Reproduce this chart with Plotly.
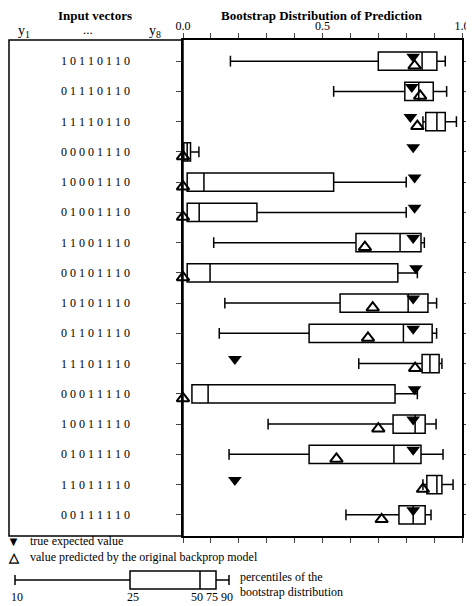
import plotly.graph_objects as go

# input vectors y1..y8, one per row (top to bottom)
vectors = ["10110110", "01110110", "11110110", "00001110", "10001110", "01001110",
           "11001110", "00101110", "10101110", "01101110", "11101110", "00011110",
           "10011110", "01011110", "11011110", "00111110"]
# bootstrap percentiles 10, 25, 50, 75, 90
p10 = [0.17, 0.54, 0.86, 0.0, 0.015, 0.015, 0.11, 0.015, 0.15, 0.13, 0.63, 0.032, 0.305, 0.165, 0.86, 0.584]
p25 = [0.70, 0.795, 0.87, 0.003, 0.015, 0.015, 0.62, 0.015, 0.563, 0.452, 0.857, 0.032, 0.753, 0.452, 0.874, 0.774]
p50 = [0.857, 0.845, 0.91, 0.015, 0.075, 0.058, 0.778, 0.097, 0.807, 0.79, 0.885, 0.09, 0.832, 0.756, 0.91, 0.825]
p75 = [0.91, 0.897, 0.94, 0.027, 0.54, 0.265, 0.853, 0.77, 0.878, 0.893, 0.918, 0.76, 0.868, 0.853, 0.928, 0.868]
p90 = [0.94, 0.945, 0.98, 0.057, 0.80, 0.80, 0.865, 0.84, 0.909, 0.909, 0.928, 0.84, 0.907, 0.932, 0.968, 0.889]
true_val = [0.825, 0.82, 0.815, 0.825, 0.83, 0.83, 0.825, 0.835, 0.825, 0.825, 0.186, 0.83, 0.825, 0.825, 0.186, 0.825]
pred_val = [0.83, 0.85, 0.84, 0.0, 0.0, 0.0, 0.652, 0.0, 0.68, 0.663, 0.832, 0.0, 0.70, 0.55, 0.86, 0.712]

rows = list(range(1, len(vectors) + 1))
FONT = "Liberation Serif"
OFF = 8  # the page puts the figure 8px in from the top-left corner
W, H = 474 - OFF, 606 - OFF
L, R, T, B = 183 - OFF, 12, 40 - OFF, 78 - OFF
PW, PH = W - L - R, H - T - B


def px(x):  # page pixel -> paper x
    return (x - OFF - L) / PW


def py(y):  # page pixel -> paper y
    return (H - B - (y - OFF)) / PH


fig = go.Figure()
fig.add_trace(go.Box(
    y=rows, q1=p25, median=p50, q3=p75, lowerfence=p10, upperfence=p90,
    orientation="h", width=0.6, whiskerwidth=0.6,
    line=dict(color="black", width=1.5), fillcolor="white", hoverinfo="skip",
))
fig.add_trace(go.Scatter(
    x=true_val, y=[r - 0.15 for r in rows], mode="markers", cliponaxis=False,
    marker=dict(symbol="triangle-down", size=12, color="black"),
))
fig.add_trace(go.Scatter(
    x=pred_val, y=[r + 0.15 for r in rows], mode="markers", cliponaxis=False,
    marker=dict(symbol="triangle-up-open", size=11, color="black", line=dict(width=2)),
))

ticks = [i / 10 for i in range(11)]
fig.update_xaxes(range=[0, 1], tickvals=ticks,
                 ticktext=["0.0", "", "", "", "", "0.5", "", "", "", "", "1.0"],
                 side="top", ticks="outside", ticklen=5, mirror="allticks",
                 showline=True, linecolor="black", linewidth=1.5, showgrid=False,
                 zeroline=False, tickfont=dict(size=12, color="black"), automargin=False,
                 ticklabelstandoff=-2)
fig.update_yaxes(range=[16.7, 0.3], tickvals=rows, showticklabels=False,
                 ticks="outside", ticklen=5, mirror="allticks", showline=True,
                 linecolor="black", linewidth=1.5, showgrid=False, zeroline=False,
                 automargin=False)

# left table border
fig.add_shape(type="rect", xref="paper", yref="paper", x0=px(9), x1=0, y0=0, y1=1,
              line=dict(color="black", width=1.5))

ann = []
for r, v in zip(rows, vectors):
    ann.append(dict(x=px(95), y=r, xref="paper", yref="y", text=" ".join(v),
                    font=dict(size=12)))
ann += [
    dict(x=px(95), y=py(15), text="<b>Input vectors</b>", font=dict(size=13)),
    dict(x=px(322), y=py(15), text="<b>Bootstrap Distribution of Prediction</b>", font=dict(size=13)),
    dict(x=px(24), y=py(31), text="y<sub>1</sub>", font=dict(size=14)),
    dict(x=px(88), y=py(30), text="...", font=dict(size=13)),
    dict(x=px(155), y=py(31), text="y<sub>8</sub>", font=dict(size=14)),
    dict(x=px(14), y=py(541), text="▼", font=dict(size=13)),
    dict(x=px(28), y=py(541), text="true expected value", xanchor="left", font=dict(size=12)),
    dict(x=px(14), y=py(557), text="<b>△</b>", font=dict(size=13)),
    dict(x=px(28), y=py(557), text="value predicted by the original backprop model", xanchor="left", font=dict(size=12)),
    dict(x=px(238), y=py(577), text="percentiles of the", xanchor="left", font=dict(size=12)),
    dict(x=px(238), y=py(592), text="bootstrap distribution", xanchor="left", font=dict(size=12)),
    dict(x=px(17), y=py(597), text="10", font=dict(size=12)),
    dict(x=px(133), y=py(597), text="25", font=dict(size=12)),
    dict(x=px(212), y=py(597), text="50 75 90", font=dict(size=12)),
]
for a in ann:
    a.setdefault("xref", "paper")
    a.setdefault("yref", "paper")
    a.setdefault("xanchor", "center")
    a["yanchor"] = "middle"
    a["showarrow"] = False
    a["font"]["color"] = "black"
    a["font"]["family"] = FONT
fig.update_layout(annotations=ann)

# percentile key
key = dict(xref="paper", yref="paper", line=dict(color="black", width=1.5))
yk = py(580)
fig.add_shape(type="line", x0=px(15), x1=px(130), y0=yk, y1=yk, **key)
fig.add_shape(type="line", x0=px(15), x1=px(15), y0=py(575), y1=py(585), **key)
fig.add_shape(type="rect", x0=px(130), x1=px(216), y0=py(571), y1=py(589), **key)
fig.add_shape(type="line", x0=px(200), x1=px(200), y0=py(571), y1=py(589), **key)
fig.add_shape(type="line", x0=px(216), x1=px(229), y0=yk, y1=yk, **key)
fig.add_shape(type="line", x0=px(229), x1=px(229), y0=py(575), y1=py(585), **key)

fig.update_layout(
    width=W, height=H, showlegend=False, template="plotly_white",
    margin=dict(l=L, r=R, t=T, b=B, autoexpand=False),
    font=dict(family=FONT, color="black"),
    plot_bgcolor="white", paper_bgcolor="white",
)
fig.write_html("out.html")
